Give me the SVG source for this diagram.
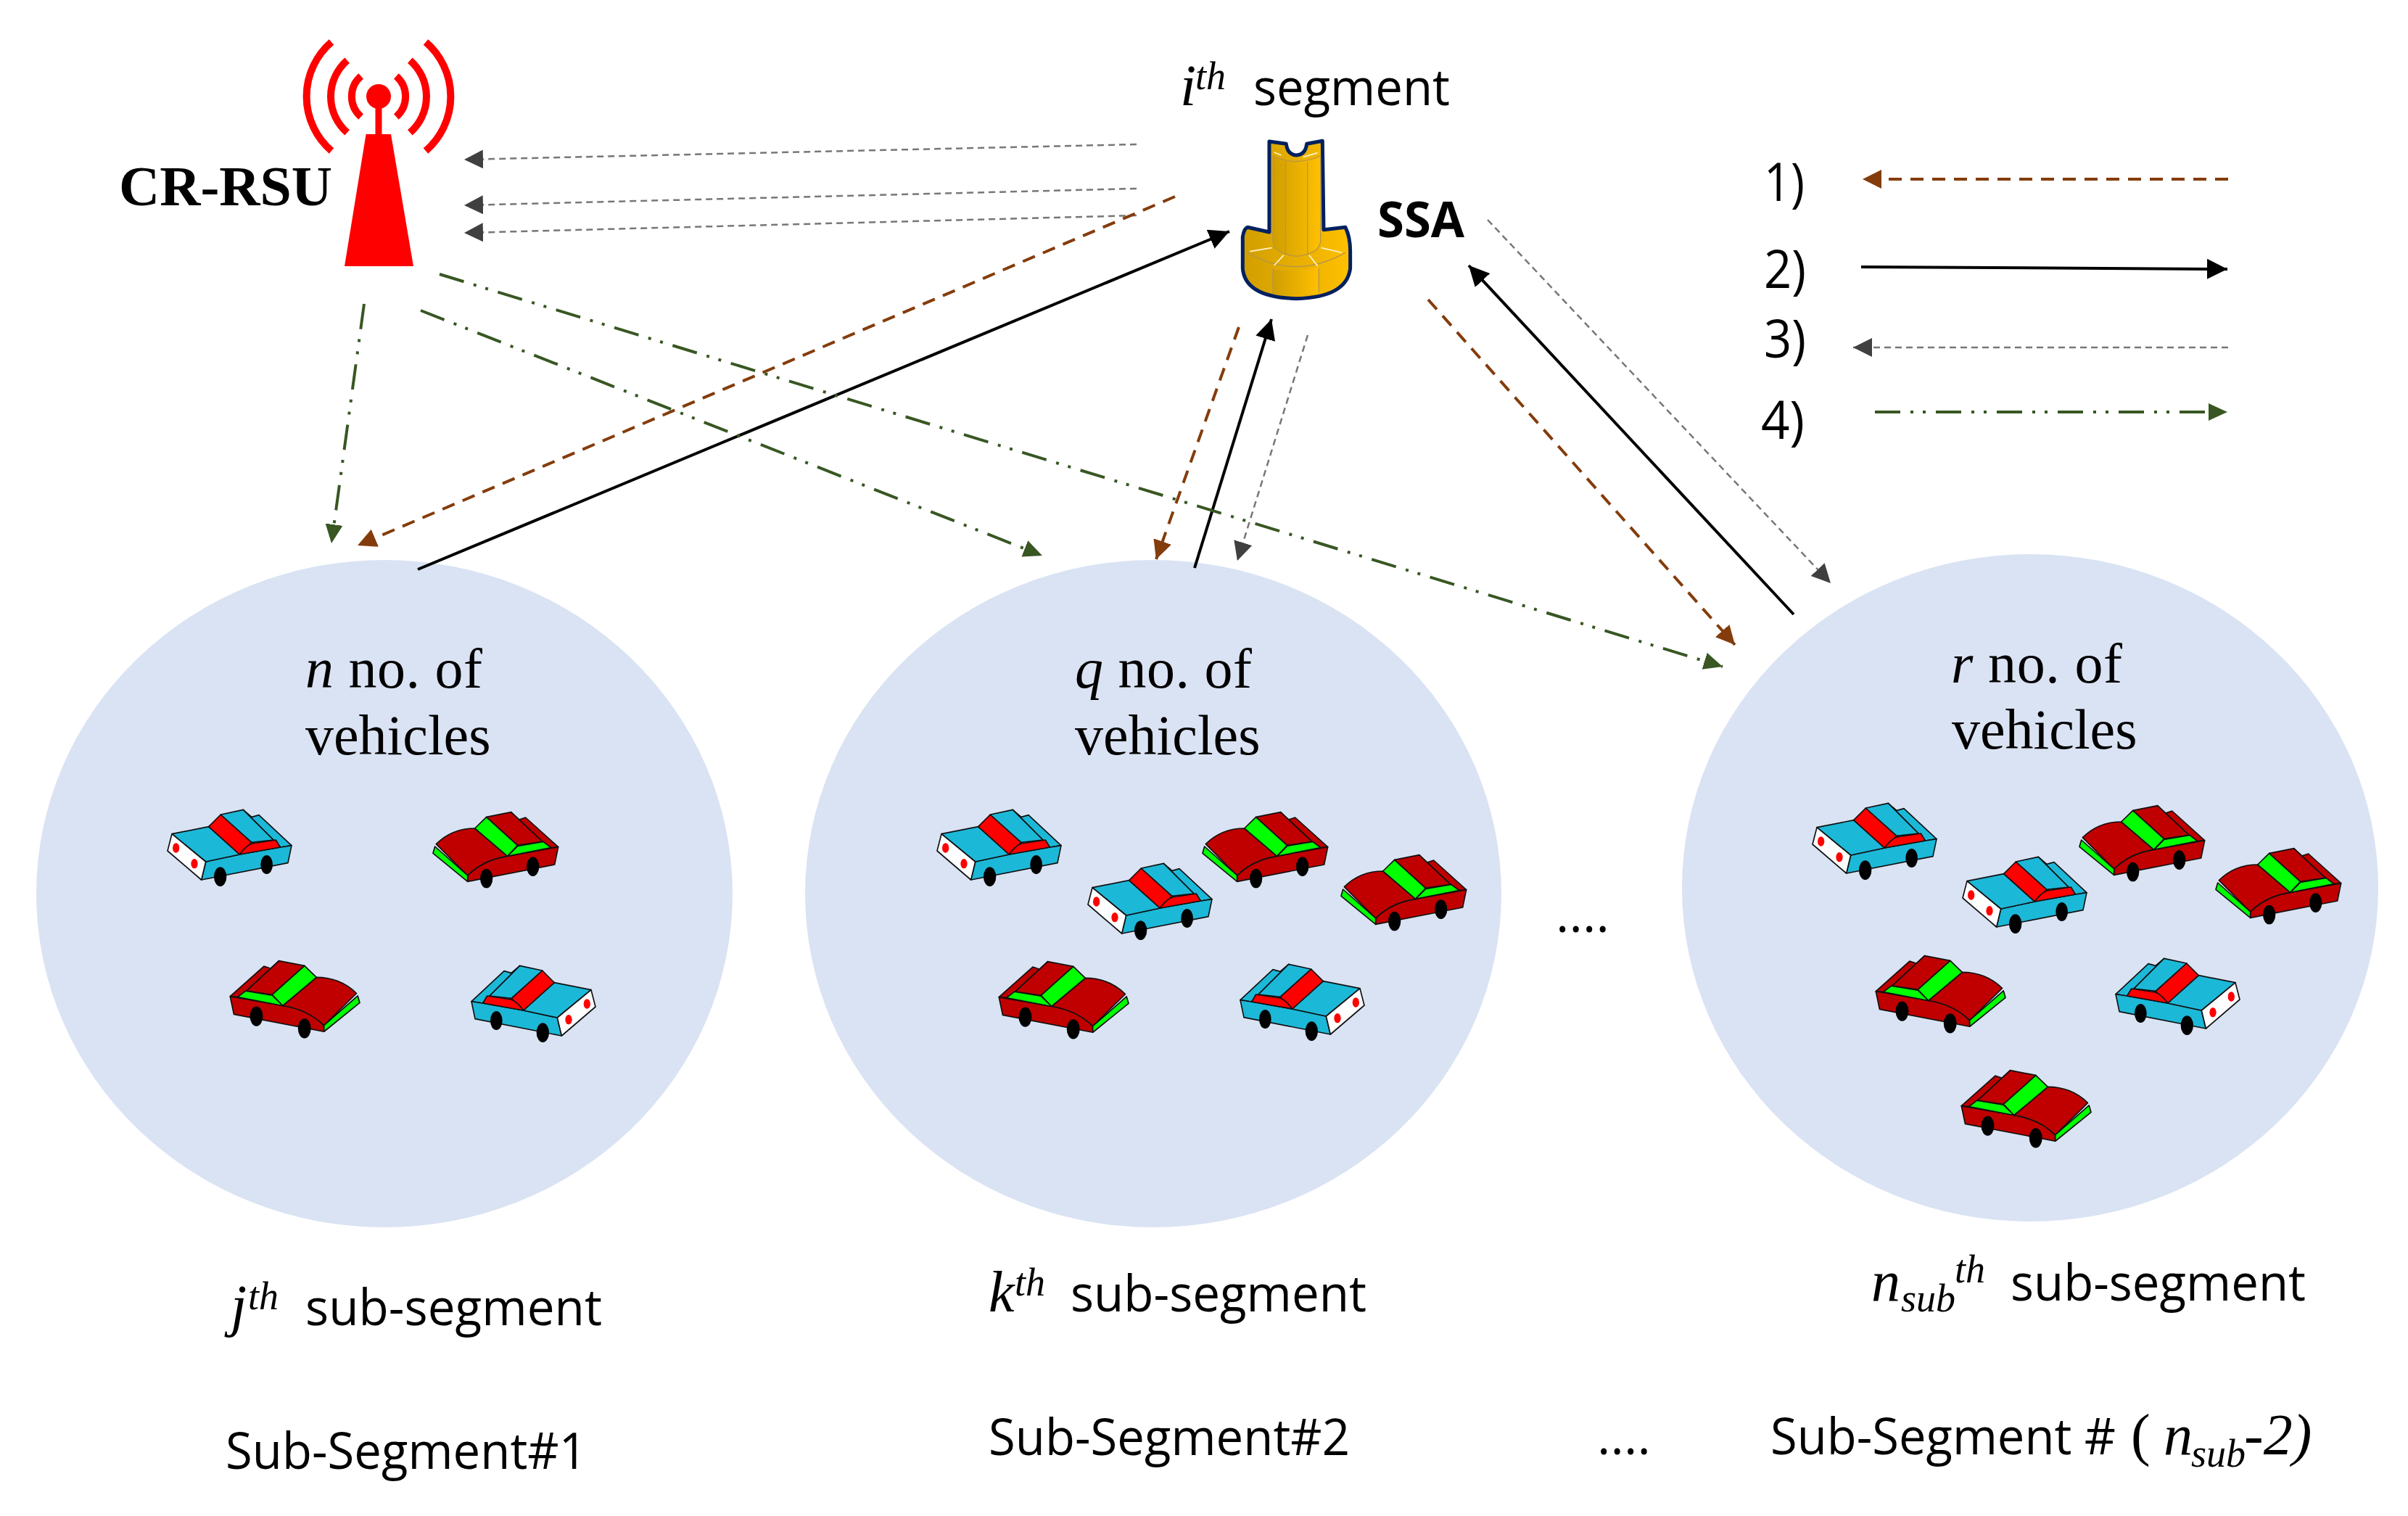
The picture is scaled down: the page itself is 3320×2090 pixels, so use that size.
<svg xmlns="http://www.w3.org/2000/svg" width="3320" height="2090" viewBox="0 0 3320 2090">
<style>
.bg{fill:#fff}
.zone{fill:#DAE3F3}
.sans{font-family:"Open Sans","Noto Sans","Liberation Sans",sans-serif;fill:#000}
.serif{font-family:"Liberation Serif","Times New Roman",serif;fill:#000}
.it{font-family:"Liberation Serif","Times New Roman",serif;font-style:italic;fill:#000}
.lbl{font-size:70px}
.leg{font-size:74px}
.veh{font-size:78px}
.ln{fill:none;stroke-linecap:butt}
.brown{stroke:#843C0C;stroke-width:4;stroke-dasharray:18 12;marker-end:url(#mBrown)}
.black{stroke:#000;stroke-width:4;marker-end:url(#mBlack)}
.gray{stroke:#777;stroke-width:2.5;stroke-dasharray:9 6;marker-end:url(#mGray)}
.green{stroke:#385723;stroke-width:4;stroke-dasharray:35 14 4 13 4 14;marker-end:url(#mGreen)}
.carline{stroke:#111;stroke-width:5;stroke-linejoin:round}
</style>
<defs>
<marker id="mBrown" markerUnits="userSpaceOnUse" markerWidth="28" markerHeight="28" refX="26" refY="13" orient="auto"><path d="M0,0L26,13L0,26Z" fill="#843C0C"/></marker>
<marker id="mBlack" markerUnits="userSpaceOnUse" markerWidth="30" markerHeight="30" refX="28" refY="14" orient="auto"><path d="M0,0L28,14L0,28Z" fill="#000"/></marker>
<marker id="mGray" markerUnits="userSpaceOnUse" markerWidth="28" markerHeight="28" refX="26" refY="13" orient="auto"><path d="M0,0L26,13L0,26Z" fill="#404040"/></marker>
<marker id="mGreen" markerUnits="userSpaceOnUse" markerWidth="28" markerHeight="28" refX="26" refY="12" orient="auto"><path d="M0,0L26,12L0,24Z" fill="#385723"/></marker>
<linearGradient id="gold" x1="0" x2="1" y1="0" y2="0"><stop offset="0" stop-color="#D09E00"/><stop offset="1" stop-color="#FFC000"/></linearGradient>
<g id="carBlue" transform="translate(-350,-268)" class="carline">
<path d="M405,110L440,140L470,132L605,258L560,265L530,235Z" fill="#1CB8D8"/>
<path d="M232,400L250,325L390,295L560,265L605,258L590,330Z" fill="#1CB8D8"/>
<path d="M110,210L262,180L390,295L250,325Z" fill="#1CB8D8"/>
<path d="M110,210L250,325L232,400L92,280Z" fill="#fff"/>
<path d="M262,180L312,130L440,245L390,295Z" fill="#f00"/>
<path d="M312,130L405,110L530,235L440,245Z" fill="#1CB8D8"/>
<path d="M390,295Q415,260 440,250L540,235L558,265Z" fill="#f00"/>
<ellipse cx="127" cy="268" rx="14" ry="20" fill="#f00" stroke="none"/>
<ellipse cx="203" cy="333" rx="14" ry="20" fill="#f00" stroke="none"/>
<ellipse cx="310" cy="387" rx="26" ry="40" fill="#000" stroke="none"/>
<ellipse cx="502" cy="337" rx="25" ry="39" fill="#000" stroke="none"/>
</g>
<g id="carRed" transform="translate(-280,-272)" class="carline">
<path d="M345,118L375,150L405,140L540,262L510,265L475,240Z" fill="#C00000"/>
<path d="M165,405V380Q230,315 330,300L540,262L525,335Z" fill="#C00000"/>
<path d="M35,250Q100,185 195,185L330,300Q230,315 165,380Z" fill="#C00000"/>
<path d="M30,260L165,380L165,405L22,288Z" fill="#0f0"/>
<path d="M195,185L243,138L372,255L330,300Z" fill="#0f0"/>
<path d="M243,138L345,118L475,240L372,255Z" fill="#C00000"/>
<path d="M330,300L372,258L478,240L510,265Z" fill="#0f0"/>
<ellipse cx="243" cy="392" rx="26" ry="40" fill="#000" stroke="none"/>
<ellipse cx="435" cy="343" rx="26" ry="40" fill="#000" stroke="none"/>
</g>
</defs>
<rect class="bg" width="3320" height="2090"/>

<g id="segment-1">
<ellipse class="zone" cx="530" cy="1232" rx="480" ry="460"/>
<text class="serif veh" x="421" y="948" textLength="244"><tspan class="it">n</tspan> no. of</text>
<text class="serif veh" x="421" y="1040">vehicles</text>
<use href="#carBlue" transform="translate(317,1169) scale(.3333)"/>
<use href="#carRed" transform="translate(683,1171) scale(.3333)"/>
<use href="#carRed" transform="translate(407,1377) scale(-.345,.34)"/>
<use href="#carBlue" transform="translate(735,1384) scale(-.3333,.3333)"/>
</g>
<g id="segment-2">
<ellipse class="zone" cx="1590" cy="1232" rx="480" ry="460"/>
<text class="serif veh" x="1482" y="948" textLength="244"><tspan class="it">q</tspan> no. of</text>
<text class="serif veh" x="1482" y="1040">vehicles</text>
<use href="#carBlue" transform="translate(1378,1169) scale(.3333)"/>
<use href="#carBlue" transform="translate(1586,1243) scale(.3333)"/>
<use href="#carRed" transform="translate(1744,1171) scale(.3333)"/>
<use href="#carRed" transform="translate(1935,1230) scale(.3333)"/>
<use href="#carRed" transform="translate(1467,1378) scale(-.345,.34)"/>
<use href="#carBlue" transform="translate(1795,1382) scale(-.3333,.3333)"/>
</g>
<g id="segment-3">
<ellipse class="zone" cx="2799" cy="1224" rx="480" ry="460"/>
<text class="serif veh" x="2690" y="941" textLength="236"><tspan class="it">r</tspan> no. of</text>
<text class="serif veh" x="2691" y="1032">vehicles</text>
<use href="#carBlue" transform="translate(2585,1160) scale(.3333)"/>
<use href="#carBlue" transform="translate(2792,1234) scale(.3333)"/>
<use href="#carRed" transform="translate(2953,1162) scale(.3333)"/>
<use href="#carRed" transform="translate(3141,1221) scale(.3333)"/>
<use href="#carRed" transform="translate(2676,1370) scale(-.345,.34)"/>
<use href="#carBlue" transform="translate(3002,1374) scale(-.3333,.3333)"/>
<use href="#carRed" transform="translate(2794,1528) scale(-.345,.34)"/>
</g>

<g id="cr-rsu">
<path d="M504.6,185H539L570,367H475Z" fill="#f00"/>
<rect x="517.5" y="140" width="9" height="46" fill="#f00"/>
<circle cx="522" cy="133" r="17" fill="#f00"/>
<g fill="none" stroke="#f00" stroke-width="10">
<path d="M457,58A99,99 0 0 0 457,208"/><path d="M587,58A99,99 0 0 1 587,208"/>
<path d="M478.7,83.2A66,66 0 0 0 478.7,182.8"/><path d="M565.3,83.2A66,66 0 0 1 565.3,182.8"/>
<path d="M497.7,105A37,37 0 0 0 497.7,161"/><path d="M546.3,105A37,37 0 0 1 546.3,161"/>
</g>
<text class="serif" x="164" y="283" font-size="78" font-weight="bold" textLength="294" lengthAdjust="spacingAndGlyphs">CR-RSU</text>
</g>

<g id="ssa">
<g transform="translate(1580,60) scale(.3333)">
<path d="M510,405L580,415Q585,460 622,462Q660,460 665,415L730,403L735,770L825,760Q845,800 845,860L845,930Q830,1050 622,1055Q410,1050 400,930L400,800Q405,765 420,760L510,780Z" fill="url(#gold)" stroke="#002060" stroke-width="15" stroke-linejoin="round"/>
<path d="M525,465Q622,510 722,465V820Q715,870 622,880Q530,870 525,820Z" fill="url(#gold)"/>
<path d="M525,935Q622,945 715,925V1030Q622,1050 525,1035Z" fill="url(#gold)"/>
<g fill="none" stroke="#B8954A" stroke-width="4">
<path d="M525,465Q622,510 722,465M525,465V820Q530,870 622,880Q715,870 722,820V465M577,490V870M668,490V870"/>
<path d="M420,865Q620,980 825,865M525,930V1035M715,930V1030"/>
</g>
<path d="M430,860L520,845M530,918L570,875M675,875L710,920M725,845L810,865M530,450L560,462M650,470L710,452" fill="none" stroke="#FFF2CC" stroke-width="5"/>
</g>
<text class="sans" x="1899" y="327" font-size="68" font-weight="bold" textLength="120" lengthAdjust="spacingAndGlyphs">SSA</text>
<text class="it" x="1627" y="145" font-size="80">i</text>
<text class="it" x="1648" y="123" font-size="54">th</text>
<text class="sans lbl" x="1728" y="145" textLength="271" lengthAdjust="spacingAndGlyphs">segment</text>
</g>

<g id="connectors" class="ln">
<path class="gray" d="M1567,199L640,220"/>
<path class="gray" d="M1567,260L640,283"/>
<path class="gray" d="M1567,297L640,321"/>
<path class="gray" d="M1803,462L1706,773"/>
<path class="gray" d="M2051,303L2524,804"/>
<path class="brown" d="M1620,271L493,752"/>
<path class="brown" d="M1708,451L1594,771"/>
<path class="brown" d="M1969,413L2392,889"/>
<path class="black" d="M576,785L1695,319"/>
<path class="black" d="M1647,783L1753,440"/>
<path class="black" d="M2473,847L2025,366"/>
<path class="green" d="M502,419L457,749"/>
<path class="green" d="M580,428L1437,766"/>
<path class="green" d="M606,378L2375,919"/>
</g>

<g id="legend">
<text class="sans leg" x="2432" y="277" textLength="56" lengthAdjust="spacingAndGlyphs">1)</text>
<text class="sans leg" x="2432" y="397" textLength="58" lengthAdjust="spacingAndGlyphs">2)</text>
<text class="sans leg" x="2432" y="493" textLength="58" lengthAdjust="spacingAndGlyphs">3)</text>
<text class="sans leg" x="2428" y="605" textLength="60" lengthAdjust="spacingAndGlyphs">4)</text>
<g class="ln">
<path class="brown" d="M3072,247H2568"/>
<path class="black" d="M2566,368L3071,371"/>
<path class="gray" d="M3072,479H2555"/>
<path class="green" d="M2585,568H3071"/>
</g>
</g>

<g id="labels">
<text class="it" x="318" y="1827" font-size="80">j</text>
<text class="it" x="342" y="1805" font-size="54">th</text>
<text class="sans lbl" x="421" y="1827" textLength="409" lengthAdjust="spacingAndGlyphs">sub-segment</text>
<text class="sans lbl" x="311" y="2025" textLength="498" lengthAdjust="spacingAndGlyphs">Sub-Segment#1</text>

<text class="it" x="1363" y="1808" font-size="80">k</text>
<text class="it" x="1399" y="1786" font-size="54">th</text>
<text class="sans lbl" x="1476" y="1808" textLength="408" lengthAdjust="spacingAndGlyphs">sub-segment</text>
<text class="sans lbl" x="1363" y="2006" textLength="498" lengthAdjust="spacingAndGlyphs">Sub-Segment#2</text>

<text class="it" x="2580" y="1793" font-size="80">n</text>
<text class="it" x="2621" y="1808" font-size="54">sub</text>
<text class="it" x="2695" y="1768" font-size="54">th</text>
<text class="sans lbl" x="2772" y="1793" textLength="407" lengthAdjust="spacingAndGlyphs">sub-segment</text>

<text class="sans lbl" x="2441" y="2005" textLength="476" lengthAdjust="spacingAndGlyphs">Sub-Segment #</text>
<text class="serif" x="2938" y="2005" font-size="80">(</text>
<text class="it" x="2983" y="2005" font-size="80">n</text>
<text class="it" x="3021" y="2022" font-size="54">sub</text>
<text class="it" x="3094" y="2005" font-size="80">-2)</text>

<text class="sans lbl" x="2145" y="1285" textLength="74">....</text>
<text class="sans lbl" x="2202" y="2005" textLength="74">....</text>
</g>
</svg>
